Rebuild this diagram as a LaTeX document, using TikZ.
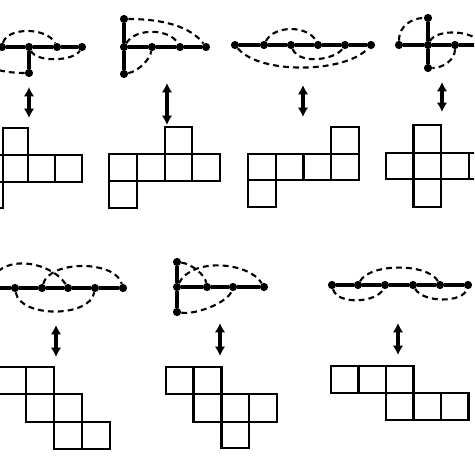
\documentclass[tikz,border=0pt]{standalone}
\usetikzlibrary{arrows.meta}

\begin{document}
\begin{tikzpicture}[x=0.03cm, y=-0.03cm,
  vertex/.style={circle, fill=black, inner sep=0pt, minimum size=7pt},
  bond/.style={line width=3.2pt},
  link/.style={line width=1.8pt, dash pattern=on 5pt off 3.5pt},
  cell/.style={line width=2.2pt},
  corresp/.style={line width=2.6pt, {Latex[length=8pt,width=9pt]}-{Latex[length=8pt,width=9pt]}}]
  \useasboundingbox (0,0) rectangle (474,474);
  \clip (0,0) rectangle (474,474);

  % Tree 1
  \node[vertex] (t1a) at (2,47) {};
  \node[vertex] (t1b) at (29,47) {};
  \node[vertex] (t1c) at (57,47) {};
  \node[vertex] (t1d) at (82,47) {};
  \node[vertex] (t1e) at (29,73) {};
  \coordinate (t1w) at (-22,52);
  \draw[bond] (t1a) -- (t1b) -- (t1c) -- (t1d) (t1b) -- (t1e);
  \draw[link] (t1a) .. controls +(5,-20) and +(-10,-20) .. (t1c);
  \draw[link] (t1b) .. controls +(8,16) and +(-8,14) .. (t1d);
  \draw[link] (t1e) .. controls +(-20,0) and +(0,18) .. (t1w);
  % Net 1
  \draw[cell] (3,128) rectangle (28,155)
    (-24,155) rectangle (3,182) (3,155) rectangle (28,182) (28,155) rectangle (55,182) (55,155) rectangle (82,182)
    (-24,182) rectangle (3,208);

  % Tree 2
  \node[vertex] (t2a) at (124,19) {};
  \node[vertex] (t2b) at (124,47) {};
  \node[vertex] (t2c) at (124,74) {};
  \node[vertex] (t2d) at (152,47) {};
  \node[vertex] (t2e) at (180,47) {};
  \node[vertex] (t2f) at (206,47) {};
  \draw[bond] (t2a) -- (t2b) -- (t2c) (t2b) -- (t2d) -- (t2e) -- (t2f);
  \draw[link] (t2a) .. controls +(40,0) and +(-15,-20) .. (t2f);
  \draw[link] (t2b) .. controls +(12,-20) and +(-10,-18) .. (t2e);
  \draw[link] (t2c) .. controls +(15,-3) and +(-2,12) .. (t2d);
  % Net 2
  \draw[cell] (165,127) rectangle (192,154)
    (109,154) rectangle (137,181) (137,154) rectangle (165,181) (165,154) rectangle (192,181) (192,154) rectangle (220,181)
    (109,181) rectangle (137,208);

  % Tree 3
  \node[vertex] (t3a) at (235,45) {};
  \node[vertex] (t3b) at (264,45) {};
  \node[vertex] (t3c) at (291,45) {};
  \node[vertex] (t3d) at (318,45) {};
  \node[vertex] (t3e) at (345,45) {};
  \node[vertex] (t3f) at (371,45) {};
  \draw[bond] (t3a) -- (t3b) -- (t3c) -- (t3d) -- (t3e) -- (t3f);
  \draw[link] (t3b) .. controls +(10,-20) and +(-10,-20) .. (t3d);
  \draw[link] (t3a) .. controls +(25,30) and +(-25,28) .. (t3f);
  \draw[link] (t3c) .. controls +(8,20) and +(-10,15) .. (t3e);
  % Net 3
  \draw[cell] (331,127) rectangle (359,154)
    (248,154) rectangle (276,180) (276,154) rectangle (303.5,180) (303.5,154) rectangle (331,180) (331,154) rectangle (359,180)
    (248,180) rectangle (276,207);

  % Tree 4
  \node[vertex] (t4a) at (399,45) {};
  \node[vertex] (t4b) at (428,45) {};
  \node[vertex] (t4c) at (455,45) {};
  \node[vertex] (t4d) at (428,18) {};
  \node[vertex] (t4e) at (428,68) {};
  \coordinate (t4x) at (483,45);
  \draw[bond] (t4a) -- (t4b) -- (t4c) -- (t4x) (t4d) -- (t4b) -- (t4e);
  \draw[link] (t4a) .. controls +(0,-20) and +(-15,0) .. (t4d);
  \draw[link] (t4b) .. controls +(8,-16) and +(-10,-16) .. (t4x);
  \draw[link] (t4c) .. controls +(0,15) and +(15,0) .. (t4e);
  % Net 4
  \draw[cell] (413.5,125) rectangle (441,153)
    (386,153) rectangle (413.5,179) (413.5,153) rectangle (441,179) (441,153) rectangle (469,179) (469,153) rectangle (497,179)
    (413.5,179) rectangle (441,207);

  % Tree 5
  \node[vertex] (t5a) at (15,288) {};
  \node[vertex] (t5b) at (42,288) {};
  \node[vertex] (t5c) at (68,288) {};
  \node[vertex] (t5d) at (95,288) {};
  \node[vertex] (t5e) at (123,288) {};
  \coordinate (t5w) at (-12,288);
  \draw[bond] (t5w) -- (t5a) -- (t5b) -- (t5c) -- (t5d) -- (t5e);
  \draw[link] (t5w) .. controls +(10,-38) and +(-16,-26) .. (t5c);
  \draw[link] (t5b) .. controls +(8,-28) and +(-8,-28) .. (t5e);
  \draw[link] (t5a) .. controls +(5,30) and +(-5,30) .. (t5d);
  % Net 5
  \draw[cell] (-1,367) rectangle (26,394) (26,367) rectangle (54,394)
    (26,394) rectangle (54,422) (54,394) rectangle (82,422)
    (54,422) rectangle (82,449) (82,422) rectangle (110,449);

  % Tree 6
  \node[vertex] (t6a) at (177,262) {};
  \node[vertex] (t6b) at (177,287) {};
  \node[vertex] (t6c) at (177,312) {};
  \node[vertex] (t6d) at (207,287) {};
  \node[vertex] (t6e) at (233,287) {};
  \node[vertex] (t6f) at (264,287) {};
  \draw[bond] (t6a) -- (t6b) -- (t6c) (t6b) -- (t6d) -- (t6e) -- (t6f);
  \draw[link] (t6a) .. controls +(15,2) and +(-2,-12) .. (t6d);
  \draw[link] (t6b) .. controls +(15,-30) and +(-15,-25) .. (t6f);
  \draw[link] (t6c) .. controls +(20,3) and +(-5,15) .. (t6e);
  % Net 6
  \draw[cell] (166,367) rectangle (193.5,394) (193.5,367) rectangle (221.5,394)
    (193.5,394) rectangle (221.5,422) (221.5,394) rectangle (249,422) (249,394) rectangle (277,422)
    (221.5,422) rectangle (249,448);

  % Tree 7
  \node[vertex] (t7a) at (332,285) {};
  \node[vertex] (t7b) at (358,285) {};
  \node[vertex] (t7c) at (385,285) {};
  \node[vertex] (t7d) at (413,285) {};
  \node[vertex] (t7e) at (440,285) {};
  \node[vertex] (t7f) at (468,285) {};
  \draw[bond] (t7a) -- (t7b) -- (t7c) -- (t7d) -- (t7e) -- (t7f);
  \draw[link] (t7b) .. controls +(12,-22) and +(-12,-22) .. (t7e);
  \draw[link] (t7a) .. controls +(5,20) and +(-8,18) .. (t7c);
  \draw[link] (t7d) .. controls +(10,18) and +(-5,18) .. (t7f);
  % Net 7
  \draw[cell] (331,366) rectangle (358.5,393) (358.5,366) rectangle (386,393) (386,366) rectangle (413.5,393)
    (386,393) rectangle (413.5,420) (413.5,393) rectangle (441,420) (441,393) rectangle (468.5,420);

  % Tree <-> net arrows
  \coordinate (a1t) at (29,87);   \coordinate (a1b) at (29,118);
  \coordinate (a2t) at (167,83);  \coordinate (a2b) at (167,125);
  \coordinate (a3t) at (303,85);  \coordinate (a3b) at (303,117);
  \coordinate (a4t) at (442,82);  \coordinate (a4b) at (442,112);
  \coordinate (a5t) at (56,325);  \coordinate (a5b) at (56,357);
  \coordinate (a6t) at (220,323); \coordinate (a6b) at (220,356);
  \coordinate (a7t) at (398,323); \coordinate (a7b) at (398,355);
  \draw[corresp] (a1t) -- (a1b);
  \draw[corresp] (a2t) -- (a2b);
  \draw[corresp] (a3t) -- (a3b);
  \draw[corresp] (a4t) -- (a4b);
  \draw[corresp] (a5t) -- (a5b);
  \draw[corresp] (a6t) -- (a6b);
  \draw[corresp] (a7t) -- (a7b);
\end{tikzpicture}
\end{document}
